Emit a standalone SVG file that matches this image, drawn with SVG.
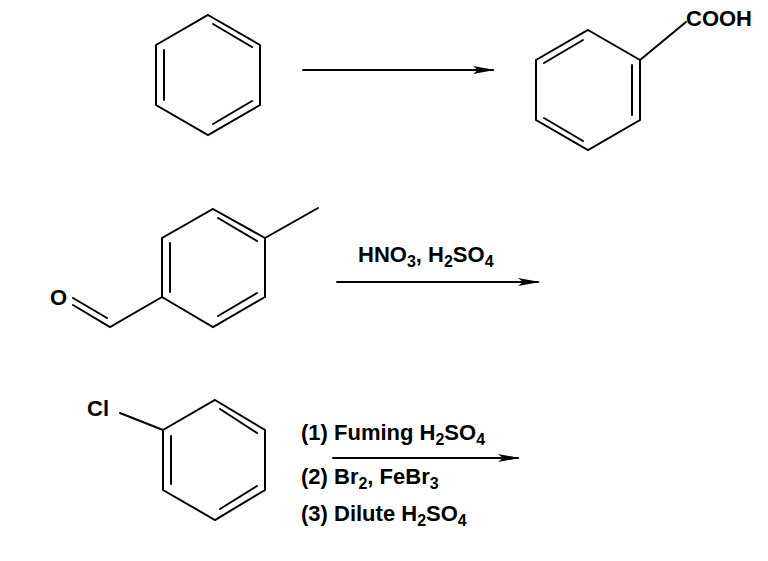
<svg xmlns="http://www.w3.org/2000/svg" width="768" height="561" viewBox="0 0 768 561">
<style>
.b{stroke:#000;stroke-width:2;fill:none;stroke-linecap:round}
text{font-family:"Liberation Sans",Arial,sans-serif;font-weight:bold;font-size:22px;fill:#000}
.s{font-size:16px}
</style>
<defs><marker id="ah" markerWidth="22" markerHeight="8" refX="20" refY="4" orient="auto" markerUnits="userSpaceOnUse"><path d="M0,0 L22,4 L0,8 L5,4 Z" fill="#000"/></marker></defs>
<rect width="768" height="561" fill="#fff"/>
<g id="benzene">
<path class="b" d="M208,15 L260,45 L260,105 L208,135 L156,105 L156,45 Z M213,24 L252,47 M252,101 L213,124 M164,100 L164,50"/>
</g>
<g id="benzoic-acid">
<path class="b" d="M588,30 L640,60 L640,120 L588,150 L536,120 L536,60 Z M632,65 L632,115 M583,141 L544,118 M544,63 L583,40 M640,60 L686,22"/>
<text x="686" y="26">COOH</text>
</g>
<g id="tolualdehyde">
<path class="b" d="M213,209 L265,238 L265,297 L213,327 L162,297 L162,238 Z M218,218 L257,241 M257,293 L218,316 M170,292 L170,243 M265,238 L318,208 M162,297 L110,327 L73,305 M107,318 L73,298"/>
<text x="50" y="305">O</text>
</g>
<g id="chlorobenzene">
<path class="b" d="M215,400 L265,430 L265,490 L215,520 L163,490 L163,430 Z M220,409 L257,433 M257,486 L220,509 M171,484 L171,436 M163,430 L120,413"/>
<text x="87" y="416">Cl</text>
</g>
<g id="connectors">
<line class="b" x1="303" y1="70" x2="493" y2="70" marker-end="url(#ah)"/>
<line class="b" x1="337" y1="282" x2="538" y2="282" marker-end="url(#ah)"/>
<line class="b" x1="333" y1="458" x2="518" y2="458" marker-end="url(#ah)"/>
</g>
<text x="358" y="262">HNO<tspan class="s" dy="5">3</tspan><tspan dy="-5">, H</tspan><tspan class="s" dy="5">2</tspan><tspan dy="-5">SO</tspan><tspan class="s" dy="5">4</tspan></text>
<text x="301" y="440">(1) Fuming H<tspan class="s" dy="5">2</tspan><tspan dy="-5">SO</tspan><tspan class="s" dy="5">4</tspan></text>
<text x="301" y="484">(2) Br<tspan class="s" dy="5">2</tspan><tspan dy="-5">, FeBr</tspan><tspan class="s" dy="5">3</tspan></text>
<text x="301" y="521">(3) Dilute H<tspan class="s" dy="5">2</tspan><tspan dy="-5">SO</tspan><tspan class="s" dy="5">4</tspan></text>
</svg>
